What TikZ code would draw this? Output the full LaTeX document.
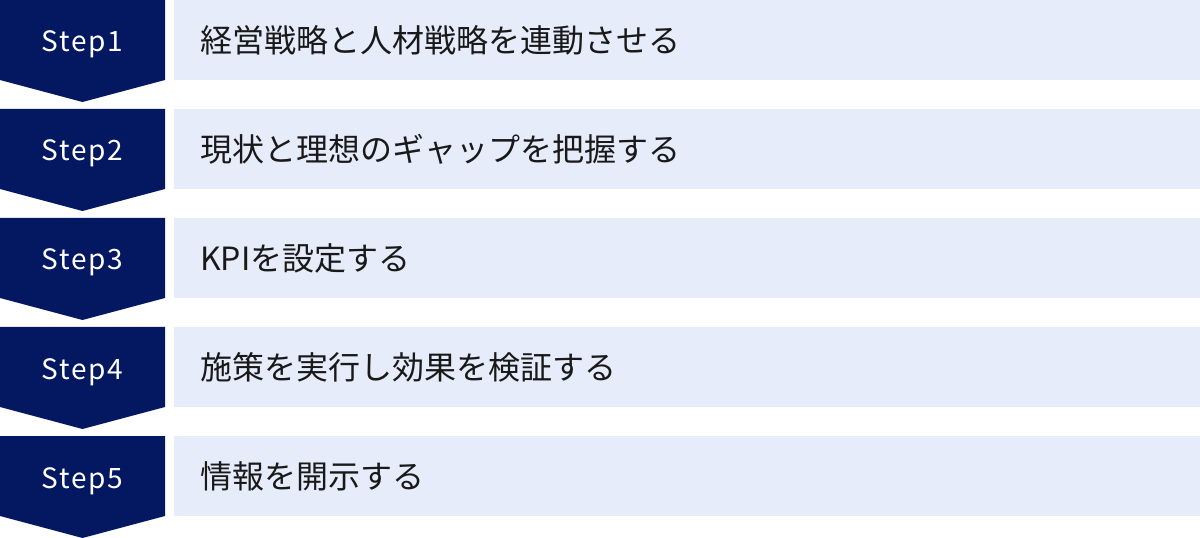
\documentclass[tikz,border=0pt]{standalone}
\usepackage{fontspec}
\setmainfont{Noto Sans CJK JP}
\usepackage{tikz}
\definecolor{stepnavy}{RGB}{4,24,98}
\definecolor{barblue}{RGB}{230,236,250}
\tikzset{x=0.75pt, y=-0.75pt}
\tikzset{steparrow/.style={fill=stepnavy},
         stepbar/.style={fill=barblue},
         steplabel/.style={anchor=base, text=white, font=\fontsize{21}{26}\selectfont\addfontfeature{LetterSpace=6}, inner sep=0pt},
         bartext/.style={anchor=west, text=black!90, font=\fontsize{24}{30}\selectfont, inner sep=0pt}}

\begin{document}
\begin{tikzpicture}
	\useasboundingbox (0,0) rectangle (1200,538);
	% step 1
	\fill[steparrow] (0,0) -- (165,0) -- (165,80) -- (82.5,102) -- (0,80) -- cycle;
	\fill[stepbar] (174,0) rectangle (1200,80);
	\node[steplabel] (S1) at (82.5,52) {Step1};
	\node[bartext] (T1) at (200,40) {経営戦略と人材戦略を連動させる};
	% step 2
	\fill[steparrow] (0,109) -- (165,109) -- (165,189) -- (82.5,211) -- (0,189) -- cycle;
	\fill[stepbar] (174,109) rectangle (1200,189);
	\node[steplabel] (S2) at (82.5,161) {Step2};
	\node[bartext] (T2) at (200,149) {現状と理想のギャップを把握する};
	% step 3
	\fill[steparrow] (0,218) -- (165,218) -- (165,298) -- (82.5,320) -- (0,298) -- cycle;
	\fill[stepbar] (174,218) rectangle (1200,298);
	\node[steplabel] (S3) at (82.5,270) {Step3};
	\node[bartext] (T3) at (200,258) {KPIを設定する};
	% step 4
	\fill[steparrow] (0,327) -- (165,327) -- (165,407) -- (82.5,429) -- (0,407) -- cycle;
	\fill[stepbar] (174,327) rectangle (1200,407);
	\node[steplabel] (S4) at (82.5,379) {Step4};
	\node[bartext] (T4) at (200,367) {施策を実行し効果を検証する};
	% step 5
	\fill[steparrow] (0,436) -- (165,436) -- (165,516) -- (82.5,538) -- (0,516) -- cycle;
	\fill[stepbar] (174,436) rectangle (1200,516);
	\node[steplabel] (S5) at (82.5,488) {Step5};
	\node[bartext] (T5) at (200,476) {情報を開示する};
\end{tikzpicture}
\end{document}
